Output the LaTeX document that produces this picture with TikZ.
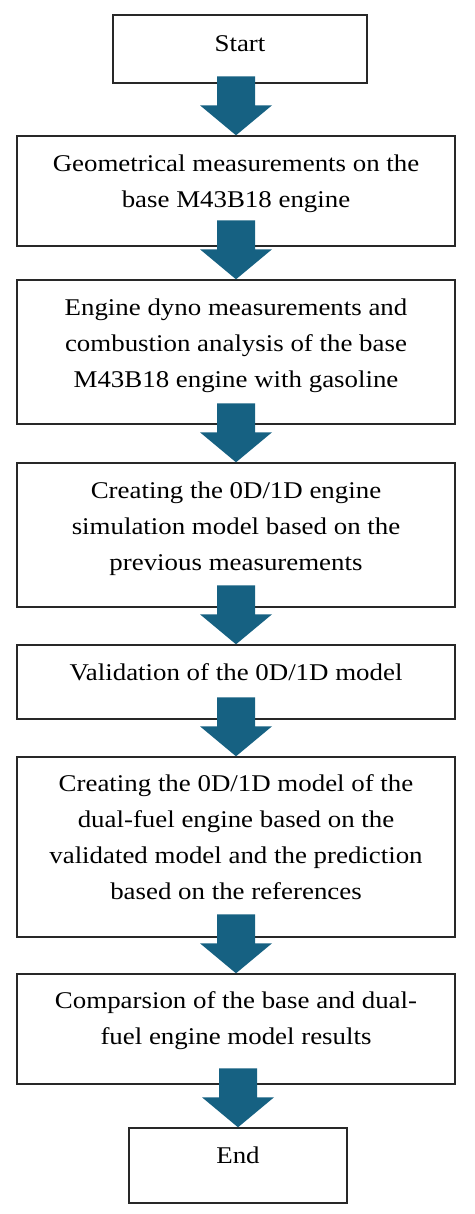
\documentclass[tikz,border=0pt]{standalone}
\usepackage{fontspec}
\setmainfont{Liberation Serif}[FakeStretch=1.12]
\usetikzlibrary{calc}
\definecolor{flowblue}{RGB}{22,97,130}
\definecolor{boxline}{RGB}{40,40,40}
\newcommand\flowarrow[2]{%
  \fill[flowblue] ($(#2.north)+(-19,-59)$) -- ($(#2.north)+(19,-59)$) --
    ($(#2.north)+(19,-30)$) -- ($(#2.north)+(36,-30)$) -- (#2.north) --
    ($(#2.north)+(-36,-30)$) -- ($(#2.north)+(-19,-30)$) -- cycle;}
\begin{document}
\begin{tikzpicture}[x=1pt,y=-1pt,
  stepbox/.style={draw=boxline, line width=1.4pt, minimum width=438pt, inner sep=0pt, fill=white},
  steptext/.style={align=center, font=\fontsize{24}{36}\selectfont, inner sep=0pt, text=black}]
\useasboundingbox (0,0) rectangle (474,1214);
% boxes
\node[stepbox, minimum width=254pt, minimum height=68pt] (s) at (240,49) {};
\node[stepbox, minimum height=110pt] (b2) at (236,191) {};
\node[stepbox, minimum height=144pt] (b3) at (236,352) {};
\node[stepbox, minimum height=144pt] (b4) at (236,535) {};
\node[stepbox, minimum height=74pt] (b5) at (236,682) {};
\node[stepbox, minimum height=180pt] (b6) at (236,847) {};
\node[stepbox, minimum height=110pt] (b7) at (236,1029) {};
\node[stepbox, minimum width=218pt, minimum height=75pt] (e) at (238,1165.5) {};
% arrows
\flowarrow{s}{b2}
\flowarrow{b2}{b3}
\flowarrow{b3}{b4}
\flowarrow{b4}{b5}
\flowarrow{b5}{b6}
\flowarrow{b6}{b7}
\flowarrow{b7}{e}
% texts
\node[steptext] (ts) at (240,44) {Start};
\node[steptext] (t2) at (236,184) {Geometrical measurements on the\\base M43B18 engine};
\node[steptext] (t3) at (236,346) {Engine dyno measurements and\\combustion analysis of the base\\M43B18 engine with gasoline};
\node[steptext] (t4) at (236,529) {Creating the 0D/1D engine\\simulation model based on the\\previous measurements};
\node[steptext] (t5) at (236,672) {Validation of the 0D/1D model};
\node[steptext] (t6) at (236,837) {Creating the 0D/1D model of the\\dual-fuel engine based on the\\validated model and the prediction\\based on the references};
\node[steptext] (t7) at (236,1021) {Comparsion of the base and dual-\\fuel engine model results};
\node[steptext] (te) at (238,1155) {End};
\end{tikzpicture}
\end{document}
